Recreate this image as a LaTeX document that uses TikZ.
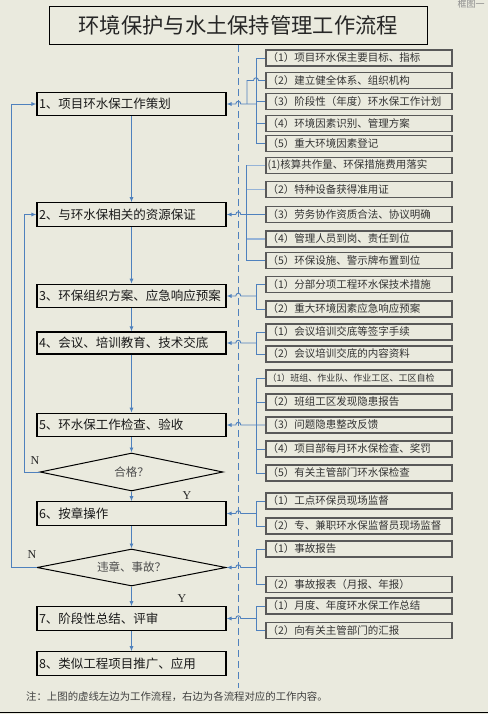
\documentclass[tikz,border=0pt]{standalone}
\usepackage{fontspec}
\setmainfont{Liberation Serif}
\newfontfamily\cjk{Noto Sans CJK SC}
\usetikzlibrary{arrows.meta,shapes.geometric}
\definecolor{paper}{RGB}{234,234,222}
\definecolor{lineblue}{RGB}{79,129,189}
\definecolor{softblue}{RGB}{149,179,215}

\begin{document}
\begin{tikzpicture}[
  x=1pt, y=-1pt,
  stage/.style={draw=black, line width=1.1pt, fill=paper, minimum width=189pt, minimum height=23.5pt, text width=185pt, inner xsep=2pt, align=left, font=\cjk\fontsize{12.5}{14}\selectfont, text=black!90},
  task/.style={draw=black!65, line width=1.6pt, fill=paper, minimum width=186pt, minimum height=16pt, text width=183pt, inner xsep=1.5pt, inner ysep=0pt, align=left, font=\cjk\fontsize{10.5}{12}\selectfont, text=black!80},
  check/.style={diamond, aspect=4.8, draw=black, line width=1pt, fill=paper, inner sep=0pt, minimum width=183pt, minimum height=38pt, font=\cjk\fontsize{11.5}{13}\selectfont, text=black!70},
  yn/.style={font=\fontsize{12}{12}\selectfont, text=black!85},
  flow/.style={draw=lineblue, line width=0.9pt, -{Latex[length=5pt,width=4pt]}},
  link/.style={draw=lineblue, line width=0.9pt},
  soft/.style={draw=softblue, line width=1.6pt},
  divider/.style={draw=lineblue, line width=1.1pt, dash pattern=on 7pt off 4pt},
  hopover/.style={to path={-- (\tikztostart -| #1r) .. controls +(0,-3.6) and +(0,-3.6) .. (\tikztostart -| #1l) -- (\tikztotarget)}}
]

\path[use as bounding box, fill=paper] (0,0) rectangle (488,714);

\node[draw=black, line width=1.3pt, minimum width=378pt, minimum height=38pt, inner sep=0pt, font=\cjk\fontsize{21.3}{22}\selectfont, text=black!85] (title) at (238.3,25.2) {环境保护与水土保持管理工作流程};
\node[font=\cjk\fontsize{9}{9}\selectfont, text=black!45] (tag) at (471,4) {框图一};

\coordinate (dv) at (238.3,0);
\coordinate (dvr) at (240.8,0);
\coordinate (dvl) at (235.8,0);
\coordinate (dend) at (238.3,688);
\draw[divider] (title.south) -- (dend);

\node[stage] (s1) at (131.5,104) {1、项目环水保工作策划};
\node[stage] (s2) at (131.5,214.5) {2、与环水保相关的资源保证};
\node[stage] (s3) at (131.5,296) {3、环保组织方案、应急响应预案};
\node[stage, minimum height=22pt] (s4) at (131.5,343) {4、会议、培训教育、技术交底};
\node[stage] (s5) at (131.5,425) {5、环水保工作检查、验收};
\node[check] (d1) at (131.5,472) {合格？};
\node[stage] (s6) at (131.5,513.5) {6、按章操作};
\node[check, minimum width=189pt, minimum height=37pt] (d2) at (131.5,567.5) {违章、事故？};
\node[stage] (s7) at (131.5,618.5) {7、阶段性总结、评审};
\node[stage] (s8) at (131.5,663.5) {8、类似工程项目推广、应用};

\draw[flow] (s1) -- (s2);
\draw[flow] (s2) -- (s3);
\draw[flow] (s3) -- (s4);
\draw[flow] (s4) -- (s5);
\draw[flow] (s5) -- (d1);
\draw[flow] (d1) -- (s6);
\draw[flow] (s6) -- (d2);
\draw[flow] (d2) -- (s7);
\draw[flow] (s7) -- (s8);
\draw[flow] (d1.west) -- ++(-15,0) |- (s2.west);
\draw[flow] (d2.west) -- ++(-25,0) |- (s1.west);

\node[yn] (n1) at (35,461) {N};
\node[yn] (y1) at (187,496) {Y};
\node[yn] (n2) at (32,555) {N};
\node[yn] (y2) at (182,599) {Y};

\node[task] (r11) at (359,58) {（1）项目环水保主要目标、指标};
\node[task] (r12) at (359,80.5) {（2）建立健全体系、组织机构};
\node[task] (r13) at (359,101.5) {（3）阶段性（年度）环水保工作计划};
\node[task] (r14) at (359,123.5) {（4）环境因素识别、管理方案};
\node[task] (r15) at (359,143.5) {（5）重大环境因素登记};

\node[task] (r21) at (359,165.5) {(1)核算共作量、环保措施费用落实};
\node[task] (r22) at (359,189.5) {（2）特种设备获得准用证};
\node[task] (r23) at (359,214.5) {（3）劳务协作资质合法、协议明确};
\node[task] (r24) at (359,239) {（4）管理人员到岗、责任到位};
\node[task] (r25) at (359,260.5) {（5）环保设施、警示牌布置到位};

\node[task] (r31) at (359,284.5) {（1）分部分项工程环水保技术措施};
\node[task] (r32) at (359,309) {（2）重大环境因素应急响应预案};

\node[task] (r41) at (359,332) {（1）会议培训交底等签字手续};
\node[task] (r42) at (359,354) {（2）会议培训交底的内容资料};

\node[task, font=\cjk\fontsize{9}{10}\selectfont] (r51) at (359,378) {（1）班组、作业队、作业工区、工区自检};
\node[task] (r52) at (359,402) {（2）班组工区发现隐患报告};
\node[task] (r53) at (359,425) {（3）问题隐患整改反馈};
\node[task] (r54) at (359,449) {（4）项目部每月环水保检查、奖罚};
\node[task] (r55) at (359,473) {（5）有关主管部门环水保检查};

\node[task] (r61) at (359,501) {（1）工点环保员现场监督};
\node[task] (r62) at (359,526) {（2）专、兼职环水保监督员现场监督};

\node[task] (r71) at (359,549) {（1）事故报告};
\node[task] (r72) at (359,584.5) {（2）事故报表（月报、年报）};

\node[task] (r81) at (359,606) {（1）月度、年度环水保工作总结};
\node[task] (r82) at (359,630.5) {（2）向有关主管部门的汇报};

\coordinate (j1) at (256,104);
\coordinate (k1) at (247,104);
\coordinate (tkr) at (258.5,0);
\coordinate (tkl) at (253.5,0);
\draw[link] (r11.west) -| (r15.west -| j1) -- (r15.west);
\draw[link] (r13.west) -- (r13.west -| j1);
\draw[link] (r14.west) -- (r14.west -| j1);
\draw[link] (r12.west) to[hopover=tk] (r12.west -| k1) -- (k1);
\draw[flow] (j1) to[hopover=dv] (s1.east);

\coordinate (j2) at (246,214.5);
\draw[soft] (r21.west) -- (r21.west -| j2);
\draw[soft] (r22.west) -- (r22.west -| j2);
\draw[soft] (r24.west) -- (r24.west -| j2);
\draw[link] (r21.west -| j2) -- (r25.west -| j2) -- (r25.west);
\draw[flow] (r23.west) to[hopover=dv] (s2.east);

\coordinate (j3) at (256,296);
\draw[link] (r31.west) -| (r32.west -| j3) -- (r32.west);
\draw[flow] (j3) to[hopover=dv] (s3.east);

\coordinate (j4) at (256,343);
\draw[link] (r41.west) -| (r42.west -| j4) -- (r42.west);
\draw[flow] (j4) to[hopover=dv] (s4.east);

\coordinate (j5) at (256,425);
\draw[link] (r51.west) -| (r55.west -| j5) -- (r55.west);
\draw[link] (r52.west) -- (r52.west -| j5);
\draw[link] (r54.west) -- (r54.west -| j5);
\draw[flow] (r53.west) to[hopover=dv] (s5.east);

\coordinate (j6) at (256,513.5);
\draw[link] (r61.west) -| (r62.west -| j6) -- (r62.west);
\draw[flow] (j6) to[hopover=dv] (s6.east);

\coordinate (j7) at (256,567.5);
\draw[link] (r71.west) -| (r72.west -| j7) -- (r72.west);
\draw[flow] (j7) to[hopover=dv] (d2.east);

\coordinate (j8) at (256,618.5);
\draw[link] (r81.west) -| (r82.west -| j8) -- (r82.west);
\draw[flow] (j8) to[hopover=dv] (s7.east);

\node[anchor=west, inner sep=0pt, font=\cjk\fontsize{10.4}{12}\selectfont, text=black!75] (remark) at (26,697) {注：上图的虚线左边为工作流程，右边为各流程对应的工作内容。};
\draw[line width=1.5pt] (0,712.5) -- (488,712.5);

\end{tikzpicture}
\end{document}
